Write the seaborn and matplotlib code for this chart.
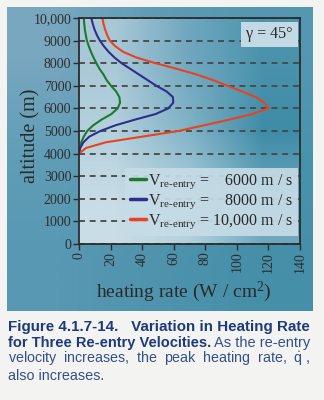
import numpy as np
import pandas as pd
import matplotlib
matplotlib.use("Agg")
import matplotlib.pyplot as plt
import seaborn as sns
from matplotlib.colors import to_rgb

# ---------------- data ----------------
altitude = [4000, 4250, 4500, 4750, 5000, 5250, 5500, 5750, 6000, 6250, 6500,
            6750, 7000, 7250, 7500, 7750, 8000, 8250, 8500, 8750, 9000, 9250,
            9500, 9750, 10000]
rate_6000 = [0, 0.6, 1.4, 3.0, 5.2, 9.0, 14.2, 20.5, 24.5, 26.0, 25.6,
             23.5, 20.3, 17.5, 15.5, 13.0, 11.0, 9.2, 7.6, 6.2, 5.0, 4.3,
             3.7, 3.3, 3.0]
rate_8000 = [0, 0.8, 2.8, 6.5, 13.5, 23.0, 35.3, 48.5, 56.5, 59.7, 59.5,
             55.5, 49.0, 43.5, 38.0, 32.5, 27.0, 22.5, 18.8, 15.8, 13.2, 11.3,
             9.8, 8.7, 7.8]
rate_10000 = [0, 4.5, 17, 40, 63, 79, 95, 110, 120, 117.5, 112,
              103.5, 94, 85, 74.5, 62, 48.5, 36.5, 28, 23, 19.5, 17.8,
              16.5, 15.5, 14.8]
series_names = ["6000", "8000", "10000"]
legend_values = ["6000", "8000", "10,000"]
x_ticks = [0, 20, 40, 60, 80, 100, 120, 140]
y_ticks = [0, 1000, 2000, 3000, 4000, 5000, 6000, 7000, 8000, 9000, 10000]
y_tick_labels = ["0", "1000", "2000", "3000", "4000", "5000", "6000", "7000",
                 "8000", "9000", "10,000"]

colors = {"6000": "#1c7a2c", "8000": "#2e2f8c", "10000": "#ea4220"}

df = pd.concat([
    pd.DataFrame({"alt": altitude, "rate": r, "series": s})
    for r, s in zip([rate_6000, rate_8000, rate_10000], series_names)
], ignore_index=True)

# ---------------- style ----------------
sns.set_style("ticks")
plt.rcParams["font.family"] = ["Liberation Serif", "DejaVu Serif"]
plt.rcParams["mathtext.fontset"] = "custom"
plt.rcParams["mathtext.rm"] = "Liberation Serif"
plt.rcParams["mathtext.it"] = "Liberation Serif:italic"
plt.rcParams["mathtext.sf"] = "Liberation Sans"
plt.rcParams["lines.scale_dashes"] = False

W, H = 324, 400
fig = plt.figure(figsize=(3.24, 4.0), dpi=100, facecolor="#f3f3f1")


def grid_img(rows):
    return np.array([[to_rgb(c) for c in row] for row in rows])


# panel background gradient
panel = fig.add_axes([7 / W, 1 - 311 / H, 306 / W, 304 / H], zorder=-2)
panel_cols = [["#78a7bf", "#5e9bb5", "#5597b0"],
              ["#609db7", "#5597b0", "#4893ac"],
              ["#5898b2", "#4f93ad", "#468fa9"]]
panel.imshow(grid_img(panel_cols), extent=[0, 1, 0, 1], aspect="auto",
             interpolation="bilinear")
panel.set_axis_off()

ax = fig.add_axes([79 / W, 1 - 244 / H, 221 / W, 226 / H])
plot_cols = [["#a9c8d7", "#6fa7bf", "#4a93ad"],
             ["#b3d0dc", "#80b3c7", "#3f8ca7"],
             ["#c9dde6", "#b3d1dd", "#6ea8bf"]]
ax.imshow(grid_img(plot_cols), extent=[0, 140, 0, 10000], aspect="auto",
          interpolation="bilinear", zorder=0)

sns.lineplot(data=df, x="rate", y="alt", hue="series", palette=colors,
             orient="y", estimator=None, linewidth=1.5, legend=False, ax=ax,
             zorder=3)

ax.set_xlim(0, 140)
ax.set_ylim(0, 10000)
ax.set_xticks(x_ticks)
ax.set_xticklabels([str(v) for v in x_ticks], rotation=90)
ax.set_yticks(y_ticks)
ax.set_yticklabels(y_tick_labels)
ax.tick_params(axis="both", labelsize=10, length=4, width=1.0,
               color="#2b2b2b", labelcolor="#2e2e2e", pad=1.5)
for sp in ax.spines.values():
    sp.set_color("#2b2b2b")
    sp.set_linewidth(1.3)
    sp.set_zorder(4)
ax.yaxis.grid(True, linestyle=(0, (4.3, 3.4)), color="#474747",
              linewidth=1.3, zorder=1)
ax.set_axisbelow(False)
for gl in ax.get_ygridlines():
    gl.set_zorder(1)

ax.set_ylabel("altitude (m)", fontsize=14.5, color="#2a2a2a")
ax.yaxis.set_label_coords(-0.22, 0.48)
ax.set_xlabel("heating rate (W / cm$^2$)", fontsize=14, color="#2a2a2a")
ax.xaxis.set_label_coords(0.473, -0.212)
ax.xaxis.label.set_va("center")
ax.yaxis.label.set_va("center")

# legend
handles = ax.lines[:3]
pads = ["   ", "   ", ""]
labels = [r"V$_{\mathrm{re\text{-}entry}}$ = " + p + v + " m / s"
          for p, v in zip(pads, legend_values)]
leg = ax.legend(handles, labels, loc="lower right",
                bbox_to_anchor=(0.99, 0.035), fontsize=11.5, frameon=True,
                fancybox=False, handlelength=1.0, handletextpad=0.15,
                borderpad=0.3, labelspacing=0.1, borderaxespad=0)
leg.get_frame().set_facecolor("#c6dce6")
leg.get_frame().set_edgecolor("none")
leg.get_frame().set_alpha(0.92)
leg.set_zorder(6)
for h in leg.legend_handles:
    h.set_linewidth(2.5)
for t in leg.get_texts():
    t.set_color("#2a2a2a")

ax.text(0.862, 0.927, "γ = 45°", transform=ax.transAxes, ha="center",
        va="center", fontsize=11.5, color="#2a2a2a", zorder=6,
        bbox=dict(boxstyle="square,pad=0.3", fc="#c3d9e4", ec="none"))

# ---------------- caption ----------------
bold_c = "#1d3b79"
reg_c = "#33508a"
cap_family = ["Liberation Sans", "DejaVu Sans"]
x0, x1 = 8.5, 309.5
base_fs = 10.4
cap_lines = [
    ([("Figure 4.1.7-14.   Variation in Heating Rate", "bold")], 330.5, True),
    ([("for Three Re-entry Velocities.", "bold"),
      ("As the re-entry", "normal")], 347, True),
    ([("velocity  increases,  the  peak  heating  rate,  "
       r"$\dot{\mathsf{q}}$ ,", "normal")], 363.5, True),
    ([("also increases.", "normal")], 380, False),
]
fig.canvas.draw()
renderer = fig.canvas.get_renderer()
for parts, yb, fit in cap_lines:
    texts = []
    for s, wt in parts:
        t = fig.text(x0 / W, 1 - yb / H, s, fontsize=base_fs, fontweight=wt,
                     family=cap_family,
                     color=bold_c if wt == "bold" else reg_c,
                     va="baseline", ha="left")
        texts.append(t)
    space = 4.5
    widths = [t.get_window_extent(renderer).width for t in texts]
    total = sum(widths) + space * (len(texts) - 1)
    fs = base_fs * (x1 - x0) / total if fit else base_fs
    fs = min(fs, 11.5)
    scale = fs / base_fs
    x = x0
    for t, wd in zip(texts, widths):
        t.set_fontsize(fs)
        t.set_x(x / W)
        x += (wd + space) * scale

fig.savefig("out.png", dpi=100, facecolor=fig.get_facecolor())
